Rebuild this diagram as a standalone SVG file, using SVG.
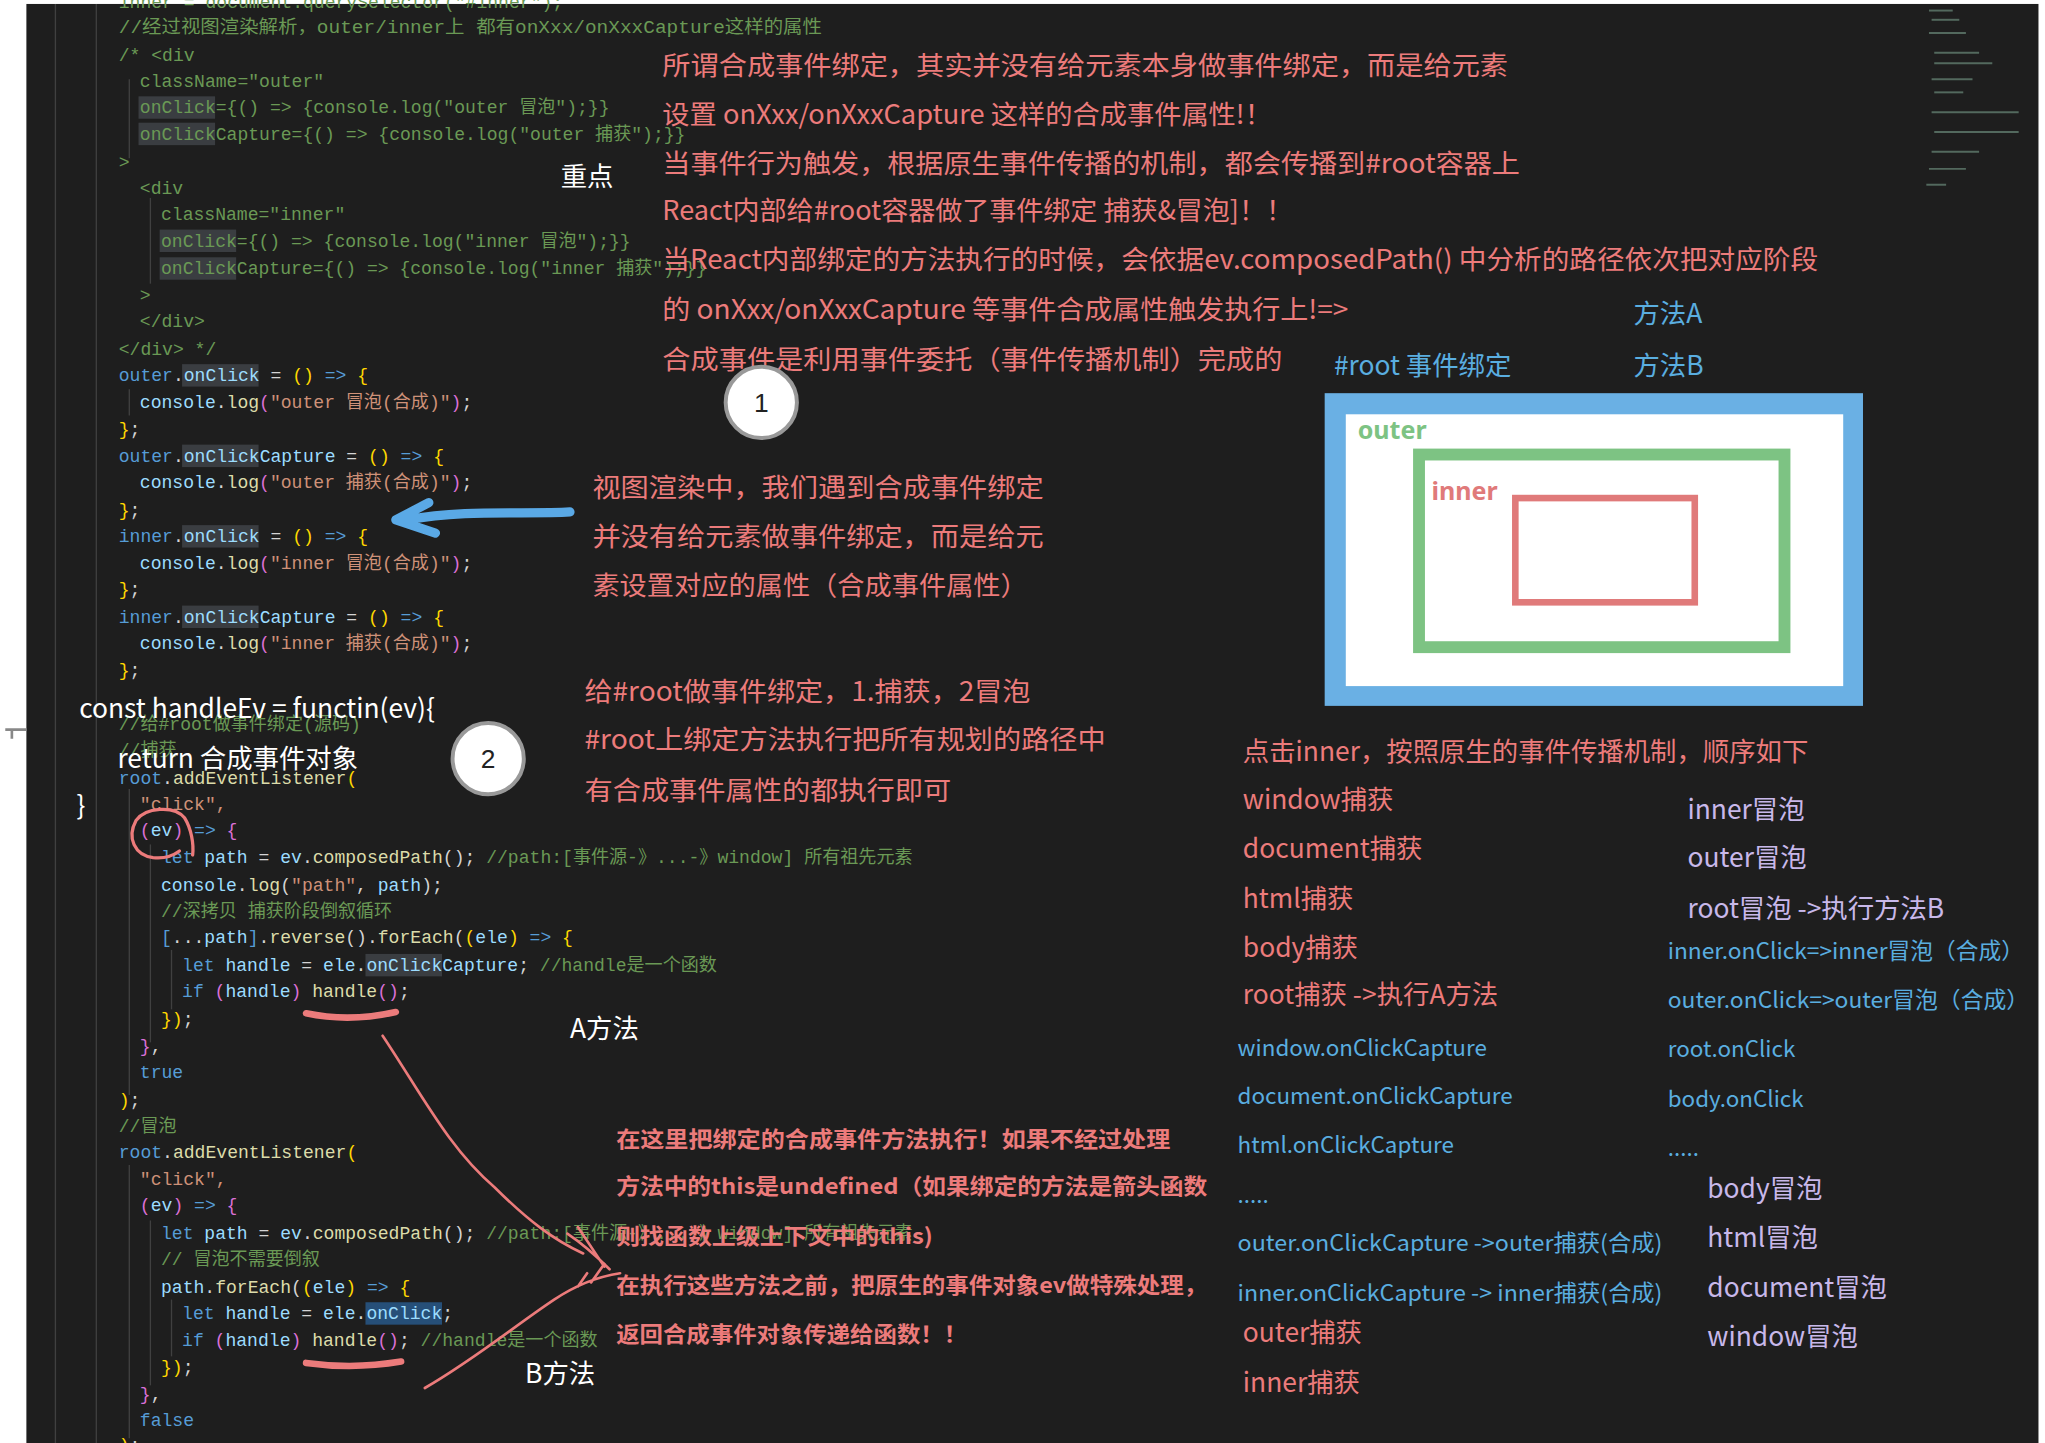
<svg xmlns="http://www.w3.org/2000/svg" width="2045" height="1443" viewBox="0 0 2045 1443">
<style>
.code{font-family:"Liberation Mono","Noto Sans CJK SC",monospace;font-size:13.7px;fill:#d4d4d4}
.c{fill:#6a9955}.v{fill:#9cdcfe}.k{fill:#569cd6}.f{fill:#dcdcaa}.s{fill:#ce9178}.y{fill:#ffd700}.m{fill:#da70d6}.n{fill:#4ec9b0}
.ann{font-family:"Noto Sans CJK SC","Noto Sans",sans-serif;font-size:20px;fill:#ec7b7b}
.blue{font-family:"Noto Sans CJK SC","Noto Sans",sans-serif;font-size:17px;fill:#5aaee0}
.pur{font-family:"Noto Sans CJK SC","Noto Sans",sans-serif;font-size:20px;fill:#c8b8ea}
.wh{font-family:"Noto Sans CJK SC","Noto Sans",sans-serif;font-size:20px;fill:#ffffff}
.bold{font-family:"Noto Sans CJK SC","Noto Sans",sans-serif;font-size:16.5px;font-weight:bold;fill:#ec7b7b}
.hl{fill:#3a3d41}
.ink{fill:none;stroke:#ec7b7b;stroke-linecap:round;stroke-linejoin:round}
</style>
<rect width="2045" height="1443" fill="#ffffff"/>
<g transform="scale(1.3194)">
<rect x="20" y="3" width="1525" height="1100" fill="#1e1e1e"/>
<g id="gutter" stroke="#404040" stroke-width="1">
<line x1="42" y1="3" x2="42" y2="1103"/><line x1="73" y1="3" x2="73" y2="1103"/>
<line x1="98" y1="60" x2="98" y2="120"/><line x1="114" y1="150" x2="114" y2="215"/>
<line x1="98" y1="295" x2="98" y2="315"/><line x1="98" y1="598" x2="98" y2="830"/><line x1="114" y1="640" x2="114" y2="790"/><line x1="130" y1="720" x2="130" y2="765"/>
<line x1="98" y1="883" x2="98" y2="1090"/><line x1="114" y1="925" x2="114" y2="1050"/><line x1="130" y1="985" x2="130" y2="1028"/>
</g>
<path d="M4 553 H20 M9 553 V560" stroke="#888" stroke-width="2" fill="none"/>
<g id="minimap" stroke="#6a8a7a" stroke-width="1.5" opacity="0.7">
<line x1="1462" y1="8" x2="1480" y2="8"/><line x1="1464" y1="15" x2="1485" y2="15"/><line x1="1462" y1="25" x2="1490" y2="25"/><line x1="1466" y1="40" x2="1500" y2="40"/><line x1="1466" y1="48" x2="1510" y2="48"/><line x1="1464" y1="60" x2="1495" y2="60"/><line x1="1466" y1="70" x2="1488" y2="70"/><line x1="1464" y1="85" x2="1530" y2="85"/><line x1="1466" y1="100" x2="1530" y2="100"/><line x1="1464" y1="115" x2="1500" y2="115"/><line x1="1462" y1="128" x2="1490" y2="128"/><line x1="1460" y1="140" x2="1475" y2="140"/>
</g>
<g id="highlights">
<rect class="hl" x="105" y="73" width="58" height="17"/><rect class="hl" x="105" y="93" width="58" height="17"/>
<rect class="hl" x="121" y="174" width="58" height="17"/><rect class="hl" x="121" y="195" width="58" height="17"/>
<rect class="hl" x="138" y="276" width="58" height="17"/><rect class="hl" x="138" y="337" width="58" height="17"/>
<rect class="hl" x="138" y="398" width="58" height="17"/><rect class="hl" x="138" y="459" width="58" height="17"/>
<rect class="hl" x="277" y="723" width="58" height="17"/><rect x="277" y="987" width="58" height="17" fill="#264f78"/>
</g>
<g id="code" class="code">
<text x="90" y="6" class="c">inner = document.querySelector("#inner");</text>
<text x="90" y="25" class="c" textLength="533" lengthAdjust="spacingAndGlyphs">//经过视图渲染解析，outer/inner上 都有onXxx/onXxxCapture这样的属性</text>
<text x="90" y="46" class="c">/*    &lt;div</text>
<text x="106" y="66" class="c">className="outer"</text>
<text x="106" y="86" class="c">onClick={() =&gt; {console.log("outer 冒泡");}}</text>
<text x="106" y="106" class="c">onClickCapture={() =&gt; {console.log("outer 捕获");}}</text>
<text x="90" y="127" class="c">&gt;</text>
<text x="106" y="147" class="c">&lt;div</text>
<text x="122" y="167" class="c">className="inner"</text>
<text x="122" y="187" class="c">onClick={() =&gt; {console.log("inner 冒泡");}}</text>
<text x="122" y="208" class="c">onClickCapture={() =&gt; {console.log("inner 捕获");}}</text>
<text x="106" y="228" class="c">&gt;</text>
<text x="106" y="248" class="c">&lt;/div&gt;</text>
<text x="90" y="269" class="c">&lt;/div&gt; */</text>
<text x="90" y="289"><tspan class="k">outer</tspan>.<tspan class="v">onClick</tspan> = <tspan class="y">()</tspan> <tspan class="k">=&gt;</tspan> <tspan class="y">{</tspan></text>
<text x="106" y="309"><tspan class="v">console</tspan>.<tspan class="f">log</tspan><tspan class="m">(</tspan><tspan class="s">"outer 冒泡(合成)"</tspan><tspan class="m">)</tspan>;</text>
<text x="90" y="330"><tspan class="y">}</tspan>;</text>
<text x="90" y="350"><tspan class="k">outer</tspan>.<tspan class="v">onClickCapture</tspan> = <tspan class="y">()</tspan> <tspan class="k">=&gt;</tspan> <tspan class="y">{</tspan></text>
<text x="106" y="370"><tspan class="v">console</tspan>.<tspan class="f">log</tspan><tspan class="m">(</tspan><tspan class="s">"outer 捕获(合成)"</tspan><tspan class="m">)</tspan>;</text>
<text x="90" y="391"><tspan class="y">}</tspan>;</text>
<text x="90" y="411"><tspan class="k">inner</tspan>.<tspan class="v">onClick</tspan> = <tspan class="y">()</tspan> <tspan class="k">=&gt;</tspan> <tspan class="y">{</tspan></text>
<text x="106" y="431"><tspan class="v">console</tspan>.<tspan class="f">log</tspan><tspan class="m">(</tspan><tspan class="s">"inner 冒泡(合成)"</tspan><tspan class="m">)</tspan>;</text>
<text x="90" y="451"><tspan class="y">}</tspan>;</text>
<text x="90" y="472"><tspan class="k">inner</tspan>.<tspan class="v">onClickCapture</tspan> = <tspan class="y">()</tspan> <tspan class="k">=&gt;</tspan> <tspan class="y">{</tspan></text>
<text x="106" y="492"><tspan class="v">console</tspan>.<tspan class="f">log</tspan><tspan class="m">(</tspan><tspan class="s">"inner 捕获(合成)"</tspan><tspan class="m">)</tspan>;</text>
<text x="90" y="512"><tspan class="y">}</tspan>;</text>
<text x="90" y="553" class="c">//给#root做事件绑定(源码)</text>
<text x="90" y="573" class="c">//捕获</text>
<text x="90" y="594"><tspan class="k">root</tspan>.<tspan class="f">addEventListener</tspan><tspan class="y">(</tspan></text>
<text x="106" y="614" class="s">"click",</text>
<text x="106" y="634"><tspan class="m">(</tspan><tspan class="v">ev</tspan><tspan class="m">)</tspan> <tspan class="k">=&gt;</tspan> <tspan class="m">{</tspan></text>
<text x="122" y="654"><tspan class="k">let</tspan> <tspan class="v">path</tspan> = <tspan class="v">ev</tspan>.<tspan class="f">composedPath</tspan>(); <tspan class="c">//path:[事件源-》...-》window] 所有祖先元素</tspan></text>
<text x="122" y="675"><tspan class="v">console</tspan>.<tspan class="f">log</tspan>(<tspan class="s">"path"</tspan>, <tspan class="v">path</tspan>);</text>
<text x="122" y="695" class="c">//深拷贝 捕获阶段倒叙循环</text>
<text x="122" y="715"><tspan class="k">[</tspan>...<tspan class="v">path</tspan><tspan class="k">]</tspan>.<tspan class="f">reverse</tspan>().<tspan class="f">forEach</tspan>(<tspan class="y">(</tspan><tspan class="v">ele</tspan><tspan class="y">)</tspan> <tspan class="k">=&gt;</tspan> <tspan class="y">{</tspan></text>
<text x="138" y="736"><tspan class="k">let</tspan> <tspan class="v">handle</tspan> = <tspan class="v">ele</tspan>.<tspan class="v">onClickCapture</tspan>; <tspan class="c">//handle是一个函数</tspan></text>
<text x="138" y="756"><tspan class="k">if</tspan> <tspan class="m">(</tspan><tspan class="v">handle</tspan><tspan class="m">)</tspan> <tspan class="f">handle</tspan><tspan class="m">()</tspan>;</text>
<text x="122" y="777"><tspan class="y">})</tspan>;</text>
<text x="106" y="797"><tspan class="m">}</tspan>,</text>
<text x="106" y="817" class="k">true</text>
<text x="90" y="838"><tspan class="y">)</tspan>;</text>
<text x="90" y="858" class="c">//冒泡</text>
<text x="90" y="878"><tspan class="k">root</tspan>.<tspan class="f">addEventListener</tspan><tspan class="y">(</tspan></text>
<text x="106" y="898" class="s">"click",</text>
<text x="106" y="918"><tspan class="m">(</tspan><tspan class="v">ev</tspan><tspan class="m">)</tspan> <tspan class="k">=&gt;</tspan> <tspan class="m">{</tspan></text>
<text x="122" y="939"><tspan class="k">let</tspan> <tspan class="v">path</tspan> = <tspan class="v">ev</tspan>.<tspan class="f">composedPath</tspan>(); <tspan class="c">//path:[事件源-》...-》window] 所有祖先元素</tspan></text>
<text x="122" y="959" class="c">// 冒泡不需要倒叙</text>
<text x="122" y="980"><tspan class="v">path</tspan>.<tspan class="f">forEach</tspan>(<tspan class="y">(</tspan><tspan class="v">ele</tspan><tspan class="y">)</tspan> <tspan class="k">=&gt;</tspan> <tspan class="y">{</tspan></text>
<text x="138" y="1000"><tspan class="k">let</tspan> <tspan class="v">handle</tspan> = <tspan class="v">ele</tspan>.<tspan class="v">onClick</tspan>;</text>
<text x="138" y="1020"><tspan class="k">if</tspan> <tspan class="m">(</tspan><tspan class="v">handle</tspan><tspan class="m">)</tspan> <tspan class="f">handle</tspan><tspan class="m">()</tspan>; <tspan class="c">//handle是一个函数</tspan></text>
<text x="122" y="1041"><tspan class="y">})</tspan>;</text>
<text x="106" y="1061"><tspan class="m">}</tspan>,</text>
<text x="106" y="1081" class="k">false</text>
<text x="90" y="1100"><tspan class="y">)</tspan>;</text>
</g>
<g id="overlay-code" class="wh">
<text x="60" y="544">const handleEv = functin(ev){</text>
<text x="89" y="582">return 合成事件对象</text>
<text x="58" y="618">}</text>
<text x="425" y="141">重点</text>
<text x="432" y="787">A方法</text>
<text x="398" y="1048">B方法</text>
</g>
<g id="notes-top" class="ann">
<text x="502" y="57" textLength="641" lengthAdjust="spacingAndGlyphs">所谓合成事件绑定，其实并没有给元素本身做事件绑定，而是给元素</text>
<text x="502" y="94" textLength="462" lengthAdjust="spacingAndGlyphs">设置 onXxx/onXxxCapture 这样的合成事件属性!！</text>
<text x="502" y="131" textLength="650" lengthAdjust="spacingAndGlyphs">当事件行为触发，根据原生事件传播的机制，都会传播到#root容器上</text>
<text x="502" y="167" textLength="478" lengthAdjust="spacingAndGlyphs">React内部给#root容器做了事件绑定 捕获&amp;冒泡]！！</text>
<text x="502" y="204" textLength="876" lengthAdjust="spacingAndGlyphs">当React内部绑定的方法执行的时候，会依据ev.composedPath() 中分析的路径依次把对应阶段</text>
<text x="502" y="242" textLength="520" lengthAdjust="spacingAndGlyphs">的 onXxx/onXxxCapture 等事件合成属性触发执行上!=&gt;</text>
<text x="502" y="280" textLength="470" lengthAdjust="spacingAndGlyphs">合成事件是利用事件委托（事件传播机制）完成的</text>
<text x="449" y="377" textLength="342" lengthAdjust="spacingAndGlyphs">视图渲染中，我们遇到合成事件绑定</text>
<text x="449" y="414" textLength="342" lengthAdjust="spacingAndGlyphs">并没有给元素做事件绑定，而是给元</text>
<text x="449" y="451" textLength="330" lengthAdjust="spacingAndGlyphs">素设置对应的属性（合成事件属性）</text>
<text x="443" y="531" textLength="338" lengthAdjust="spacingAndGlyphs">给#root做事件绑定，1.捕获，2冒泡</text>
<text x="443" y="568" textLength="395" lengthAdjust="spacingAndGlyphs">#root上绑定方法执行把所有规划的路径中</text>
<text x="443" y="606" textLength="278" lengthAdjust="spacingAndGlyphs">有合成事件属性的都执行即可</text>
</g>
<g id="labels-blue" class="blue" style="font-size:20px">
<text x="1238" y="245">方法A</text>
<text x="1238" y="284">方法B</text>
<text x="1011" y="284">#root 事件绑定</text>
</g>
<g id="circle1"><circle cx="577" cy="305" r="27" fill="#fff" stroke="#999" stroke-width="3"/><text x="577" y="312" text-anchor="middle" font-family="Liberation Sans,sans-serif" font-size="20" fill="#222">1</text></g>
<g id="circle2"><circle cx="370" cy="575" r="27" fill="#fff" stroke="#999" stroke-width="3"/><text x="370" y="582" text-anchor="middle" font-family="Liberation Sans,sans-serif" font-size="20" fill="#222">2</text></g>
<g id="box">
<rect x="1004" y="298" width="408" height="237" fill="#6ab0e4"/>
<rect x="1020" y="314" width="377" height="206" fill="#ffffff"/>
<text x="1029" y="333" font-family="Noto Sans,sans-serif" font-weight="bold" font-size="19" fill="#7dc383">outer</text>
<rect x="1075.5" y="344.5" width="277" height="146" fill="none" stroke="#7dc383" stroke-width="9"/>
<text x="1085" y="379" font-family="Noto Sans,sans-serif" font-weight="bold" font-size="19" fill="#e07a7a">inner</text>
<rect x="1148.5" y="377.5" width="136" height="79" fill="none" stroke="#e07a7a" stroke-width="5"/>
</g>
<g id="connectors">
<path d="M432 388 C400 390 350 386 310 394 M325 381 L300 394 L330 404" fill="none" stroke="#5aa9e6" stroke-width="7" stroke-linecap="round" stroke-linejoin="round"/>
<path class="ink" stroke-width="5" d="M232 768 Q265 775 300 767"/>
<path class="ink" stroke-width="5" d="M232 1033 Q268 1038 304 1032"/>
<path class="ink" stroke-width="2" d="M290 785 C320 830 340 870 375 900 C400 925 420 940 442 950 M430 935 C445 945 455 955 462 962 M438 930 L458 960"/>
<path class="ink" stroke-width="2" d="M322 1052 C360 1030 390 1005 420 985 C435 975 450 968 470 965 M445 965 L438 975 M458 958 L448 972"/>
<path class="ink" stroke-width="2.5" d="M140 620 C132 610 110 612 103 622 C96 635 102 648 116 650 C125 651 132 648 136 645 M140 620 C145 628 147 640 146 648"/>
</g>
<g id="bold-note" class="bold">
<text x="467" y="869" textLength="420" lengthAdjust="spacingAndGlyphs">在这里把绑定的合成事件方法执行！如果不经过处理</text>
<text x="467" y="905" textLength="448" lengthAdjust="spacingAndGlyphs">方法中的this是undefined（如果绑定的方法是箭头函数</text>
<text x="467" y="943" textLength="240" lengthAdjust="spacingAndGlyphs">则找函数上级上下文中的this)</text>
<text x="467" y="980" textLength="448" lengthAdjust="spacingAndGlyphs">在执行这些方法之前，把原生的事件对象ev做特殊处理，</text>
<text x="467" y="1017" textLength="266" lengthAdjust="spacingAndGlyphs">返回合成事件对象传递给函数！！</text>
</g>
<g id="order-left">
<text class="ann" x="942" y="577">点击inner，按照原生的事件传播机制，顺序如下</text>
<text class="ann" x="942" y="613">window捕获</text>
<text class="ann" x="942" y="650">document捕获</text>
<text class="ann" x="942" y="688">html捕获</text>
<text class="ann" x="942" y="725">body捕获</text>
<text class="ann" x="942" y="761">root捕获 -&gt;执行A方法</text>
<text class="blue" x="938" y="800">window.onClickCapture</text>
<text class="blue" x="938" y="837">document.onClickCapture</text>
<text class="blue" x="938" y="874">html.onClickCapture</text>
<text class="blue" x="938" y="912">.....</text>
<text class="blue" x="938" y="948" textLength="322" lengthAdjust="spacingAndGlyphs">outer.onClickCapture -&gt;outer捕获(合成)</text>
<text class="blue" x="938" y="986" textLength="322" lengthAdjust="spacingAndGlyphs">inner.onClickCapture -&gt; inner捕获(合成)</text>
<text class="ann" x="942" y="1017">outer捕获</text>
<text class="ann" x="942" y="1055">inner捕获</text>
</g>
<g id="order-right">
<text class="pur" x="1279" y="621">inner冒泡</text>
<text class="pur" x="1279" y="657">outer冒泡</text>
<text class="pur" x="1279" y="696">root冒泡 -&gt;执行方法B</text>
<text class="blue" x="1264" y="727" textLength="270" lengthAdjust="spacingAndGlyphs">inner.onClick=&gt;inner冒泡（合成）</text>
<text class="blue" x="1264" y="764" textLength="274" lengthAdjust="spacingAndGlyphs">outer.onClick=&gt;outer冒泡（合成）</text>
<text class="blue" x="1264" y="801">root.onClick</text>
<text class="blue" x="1264" y="839">body.onClick</text>
<text class="blue" x="1264" y="876">.....</text>
<text class="pur" x="1294" y="908">body冒泡</text>
<text class="pur" x="1294" y="945">html冒泡</text>
<text class="pur" x="1294" y="983">document冒泡</text>
<text class="pur" x="1294" y="1020">window冒泡</text>
</g>
</g>
</svg>
